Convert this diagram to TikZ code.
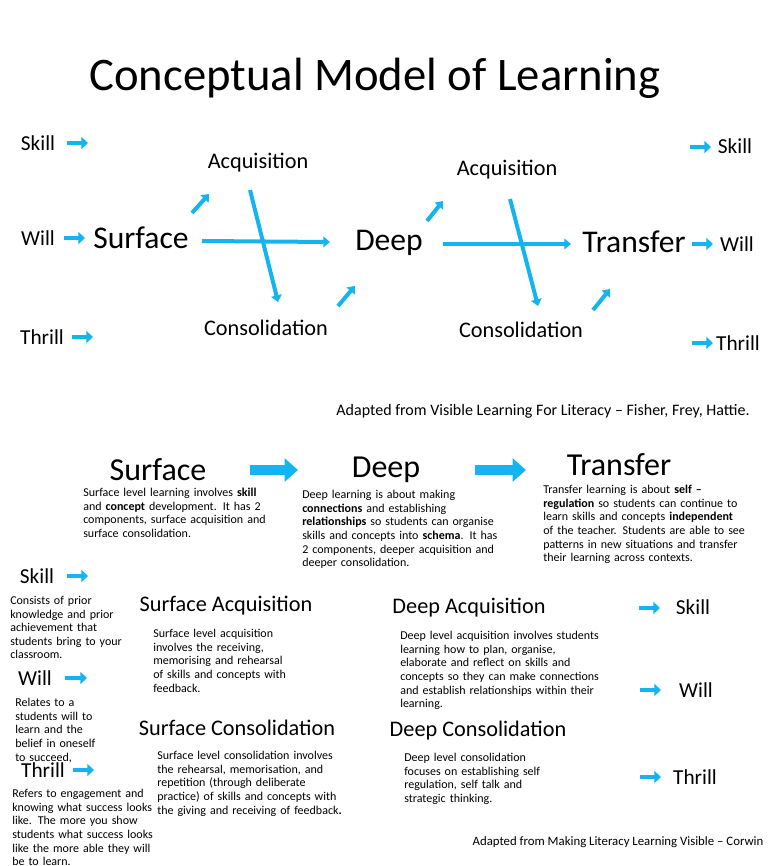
\documentclass[tikz,border=0pt]{standalone}
\usepackage{fontspec}
\setmainfont{Carlito}
\usetikzlibrary{arrows.meta}
\definecolor{cy}{HTML}{14B4EE}
\hyphenpenalty=10000
\exhyphenpenalty=10000
\begin{document}
\begin{tikzpicture}[x=0.75pt,y=-0.75pt,
  sarr/.style={cy,line width=3.5pt,-{Triangle[length=5pt,width=9pt]}},
  marr/.style={cy,line width=3pt,-{Triangle[length=5pt,width=8pt]}},
  barr/.style={cy,line width=7pt,-{Triangle[length=10pt,width=17pt]}},
  lab/.style={font=\fontsize{16}{18}\selectfont},
  big/.style={font=\fontsize{23.7}{27}\selectfont},
  mid/.style={font=\fontsize{16.7}{19}\selectfont},
  hd/.style={font=\fontsize{16.7}{19}\selectfont},
  body/.style={font=\fontsize{9}{10.2}\selectfont,align=left,anchor=north west,inner sep=0pt}]
\useasboundingbox (0,0) rectangle (768,866);
\node (title) at (375,78) {\fontsize{35}{40}\selectfont Conceptual Model of Learning};
% top diagram
\node[lab] (sk1) at (38,143) {Skill};
\node[lab] (wi1) at (38,238) {Will};
\node[lab] (th1) at (42,337) {Thrill};
\coordinate (a1s) at (67,143); \coordinate (a1e) at (88,143);
\coordinate (a2s) at (64,238); \coordinate (a2e) at (85,238);
\coordinate (a3s) at (72,337); \coordinate (a3e) at (93,337);
\draw[sarr] (a1s)--(a1e); \draw[sarr] (a2s)--(a2e); \draw[sarr] (a3s)--(a3e);
\node[big] (surf) at (141,238) {Surface};
\node[mid] (acq1) at (258,163) {Acquisition};
\node[mid] (con1) at (266,328) {Consolidation};
\node[big] (deep) at (389,243) {Deep};
\node[mid] (acq2) at (507,170) {Acquisition};
\node[mid] (con2) at (521,330) {Consolidation};
\node[big] (tran) at (634,242) {Transfer};
\coordinate (h1s) at (202,241); \coordinate (h1e) at (330,242);
\coordinate (d1s) at (250,190); \coordinate (d1e) at (278,302);
\coordinate (s1s) at (192,213); \coordinate (s1e) at (209,194);
\coordinate (s2s) at (338,306); \coordinate (s2e) at (355,286);
\draw[marr] (h1s)--(h1e); \draw[marr] (d1s)--(d1e);
\draw[marr] (s1s)--(s1e); \draw[marr] (s2s)--(s2e);
\coordinate (h2s) at (443,244); \coordinate (h2e) at (571,244);
\coordinate (d2s) at (510,199); \coordinate (d2e) at (538,306);
\coordinate (s3s) at (427,221); \coordinate (s3e) at (443,201);
\coordinate (s4s) at (593,310); \coordinate (s4e) at (610,289);
\draw[marr] (h2s)--(h2e); \draw[marr] (d2s)--(d2e);
\draw[marr] (s3s)--(s3e); \draw[marr] (s4s)--(s4e);
\coordinate (r1s) at (690,147); \coordinate (r1e) at (711,147);
\coordinate (r2s) at (692,244); \coordinate (r2e) at (713,244);
\coordinate (r3s) at (692,343); \coordinate (r3e) at (713,343);
\draw[sarr] (r1s)--(r1e); \draw[sarr] (r2s)--(r2e); \draw[sarr] (r3s)--(r3e);
\node[lab] (sk2) at (735,146) {Skill};
\node[lab] (wi2) at (737,244) {Will};
\node[lab] (th2) at (738,343) {Thrill};
\node (ad1) at (543,411) {\fontsize{12}{14}\selectfont Adapted from Visible Learning For Literacy – Fisher, Frey, Hattie.};
% bottom
\node[font=\fontsize{24}{27}\selectfont] (bs) at (158,470) {Surface};
\node[font=\fontsize{24}{27}\selectfont] (bd) at (386,470) {Deep};
\node[font=\fontsize{24}{27}\selectfont] (bt) at (619,465) {Transfer};
\coordinate (b1s) at (250,470); \coordinate (b1e) at (298,470);
\coordinate (b2s) at (475,470); \coordinate (b2e) at (526,470);
\draw[barr] (b1s)--(b1e); \draw[barr] (b2s)--(b2e);
\node[body,text width=141pt] (ts) at (83,488) {Surface level learning involves \textbf{skill} and \textbf{concept} development. It has 2 components, surface acquisition and surface consolidation.};
\node[body,text width=148pt] (td) at (302,490) {Deep learning is about making \textbf{connections} and establishing \textbf{relationships} so students can organise skills and concepts into \textbf{schema}. It has 2 components, deeper acquisition and deeper consolidation.};
\node[body,text width=156pt] (tt) at (543,485) {Transfer learning is about \textbf{self – regulation} so students can continue to learn skills and concepts \textbf{independent} of the teacher. Students are able to see patterns in new situations and transfer their learning across contexts.};
\node[lab] (sk3) at (37,576) {Skill};
\node[lab] (wi3) at (35,678) {Will};
\node[lab] (th3) at (43,770) {Thrill};
\coordinate (l1s) at (67,576); \coordinate (l1e) at (88,576);
\coordinate (l2s) at (65,678); \coordinate (l2e) at (87,678);
\coordinate (l3s) at (73,770); \coordinate (l3e) at (94,770);
\draw[sarr] (l1s)--(l1e); \draw[sarr] (l2s)--(l2e); \draw[sarr] (l3s)--(l3e);
\node[body,text width=97pt] (tsk) at (10,596) {Consists of prior knowledge and prior achievement that students bring to your classroom.};
\node[body,text width=77pt] (twi) at (15,698) {Relates to a students will to learn and the belief in oneself to succeed,};
\node[body,text width=107pt] (tth) at (12,789) {Refers to engagement and knowing what success looks like. The more you show students what success looks like the more able they will be to learn.};
\node[hd] (sa) at (226,606) {Surface Acquisition};
\node[hd] (sc) at (237,728) {Surface Consolidation};
\node[hd] (da) at (469,608) {Deep Acquisition};
\node[hd] (dc) at (478,731) {Deep Consolidation};
\node[body,text width=118pt] (tsa) at (153,629) {Surface level acquisition involves the receiving, memorising and rehearsal of skills and concepts with feedback.};
\node[body,text width=145pt] (tsc) at (157,751) {Surface level consolidation involves the rehearsal, memorisation, and repetition (through deliberate practice) of skills and concepts with the giving and receiving of feedback\textbf{.}};
\node[body,text width=154pt] (tda) at (400,631) {Deep level acquisition involves students learning how to plan, organise, elaborate and reflect on skills and concepts so they can make connections and establish relationships within their learning.};
\node[body,text width=102pt] (tdc) at (404,753) {Deep level consolidation focuses on establishing self regulation, self talk and strategic thinking.};
\coordinate (q1s) at (639,608); \coordinate (q1e) at (660,608);
\coordinate (q2s) at (640,690); \coordinate (q2e) at (661,690);
\coordinate (q3s) at (640,777); \coordinate (q3e) at (661,777);
\draw[sarr] (q1s)--(q1e); \draw[sarr] (q2s)--(q2e); \draw[sarr] (q3s)--(q3e);
\node[lab] (sk4) at (693,607) {Skill};
\node[lab] (wi4) at (696,690) {Will};
\node[lab] (th4) at (695,777) {Thrill};
\node (ad2) at (618,842) {\fontsize{9.6}{11}\selectfont Adapted from Making Literacy Learning Visible – Corwin};
\end{tikzpicture}
\end{document}
